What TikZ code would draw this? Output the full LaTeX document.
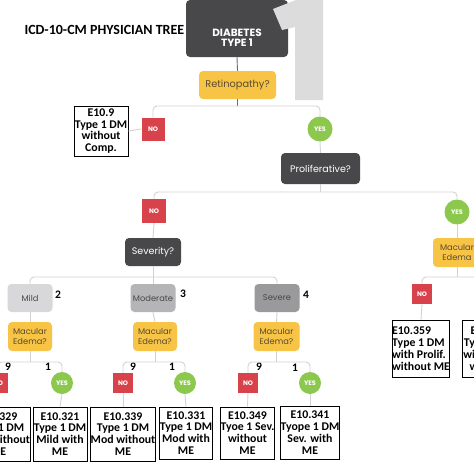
\documentclass[tikz,border=0pt]{standalone}
\usepackage{fontspec}
\setmainfont{Carlito}
\newfontfamily\flowfont{Poppins}
\usetikzlibrary{positioning}

\definecolor{boxdark}{HTML}{48484A}
\definecolor{qyellow}{HTML}{F7C445}
\definecolor{qtext}{HTML}{5A4A30}
\definecolor{nored}{HTML}{D8434B}
\definecolor{yesgreen}{HTML}{8CC84D}
\definecolor{linegray}{HTML}{D2D2D2}
\definecolor{biggray}{HTML}{DCDCDC}
\definecolor{mildgray}{HTML}{D8D8DA}
\definecolor{modgray}{HTML}{B5B5B7}
\definecolor{sevgray}{HTML}{9A9A9C}

\tikzset{
  conn/.style={draw=linegray, line width=0.9pt, rounded corners=4pt},
  stem/.style={draw=boxdark!80, line width=0.9pt},
  darkbox/.style={fill=boxdark, rounded corners=4pt, text=white, inner sep=0pt,
    font=\flowfont\fontsize{9.5}{10}\selectfont},
  qbox/.style={fill=qyellow, rounded corners=4pt, text=qtext, inner sep=0pt,
    align=center, font=\flowfont\fontsize{8.3}{9.2}\selectfont},
  grade/.style={rounded corners=4pt, text=boxdark, inner sep=0pt,
    minimum width=45, minimum height=28, font=\flowfont\fontsize{8.3}{9}\selectfont},
  nobox/.style={fill=nored, text=white, inner sep=0pt, minimum size=20,
    font=\flowfont\bfseries\fontsize{6.5}{6.5}\selectfont},
  yesdot/.style={circle, fill=yesgreen, text=white, inner sep=0pt, minimum size=22,
    font=\flowfont\bfseries\fontsize{6.5}{6.5}\selectfont},
  codebox/.style={draw=black, line width=0.9pt, fill=white, inner sep=0pt, align=center,
    minimum width=54, minimum height=54, font=\bfseries\fontsize{11.8}{11.8}\selectfont},
  numlbl/.style={inner sep=0pt, font=\bfseries\fontsize{11.5}{11.5}\selectfont}
}

\begin{document}
\begin{tikzpicture}[x=1pt, y=-1pt]

  % Canvas
  \useasboundingbox (0,0) rectangle (474,474);
  \clip (0,0) rectangle (474,474);
  \fill[white] (0,0) rectangle (474,474);

  % Title
  \node[font=\bfseries\fontsize{14}{14}\selectfont, anchor=west] (title) at (21,30) {ICD-10-CM PHYSICIAN TREE};

  % Top box and the big one behind it
  \node[darkbox, minimum width=102, minimum height=57] (diab) at (237,28.5) {};
  \fill[biggray] (273,9) -- (296,0) -- (323,0) -- (323,100) -- (295,100) -- (295,27) -- (282,30) -- cycle;
  \node[text=white, align=center, inner sep=0pt,
    font=\flowfont\bfseries\fontsize{10.5}{10}\selectfont] (diabtxt) at (237,38) {DIABETES\\TYPE 1};

  % First question
  \node[qbox, minimum width=77, minimum height=28, font=\flowfont\fontsize{9.8}{10}\selectfont] (ret) at (237.5,85) {Retinopathy?};
  \node[nobox, minimum size=23] (no1) at (153,129) {NO};
  \node[yesdot, minimum size=25] (yes1) at (320,129) {YES};
  \node[codebox, minimum height=50] (r109) at (101,131) {E10.9\\Type 1 DM\\without\\Comp.};

  % Second question
  \node[darkbox, minimum width=79, minimum height=31] (prol) at (320.5,168.5) {Proliferative?};
  \node[nobox, minimum size=24] (no2) at (154,211) {NO};
  \node[yesdot, minimum size=25] (yes2) at (457,212) {YES};
  \node[darkbox, minimum width=56, minimum height=28] (sev) at (153,252) {Severity?};
  \node[qbox, minimum width=48, minimum height=29] (mace) at (457,252.5) {Macular\\Edema};

  % Grades
  \node[grade, fill=mildgray] (mild) at (30,298) {Mild};
  \node[grade, fill=modgray] (mod) at (153,298) {Moderate};
  \node[grade, fill=sevgray] (sevr) at (277,298) {Severe};
  \node[numlbl] (n2) at (58,295) {2};
  \node[numlbl] (n3) at (183,294) {3};
  \node[numlbl] (n4) at (306,295) {4};

  % Macular edema questions
  \node[qbox, minimum width=44, minimum height=29] (me1) at (30,336.5) {Macular\\Edema?};
  \node[qbox, minimum width=44, minimum height=29] (me2) at (155,336.5) {Macular\\Edema?};
  \node[qbox, minimum width=46, minimum height=29] (me3) at (276.5,336.5) {Macular\\Edema?};

  % Answers
  \node[nobox] (no3) at (-2,383) {NO};
  \node[yesdot] (yes3) at (62,383) {YES};
  \node[nobox] (no4) at (123,383) {NO};
  \node[yesdot] (yes4) at (185,383) {YES};
  \node[nobox] (no5) at (248,383) {NO};
  \node[yesdot] (yes5) at (310,383) {YES};
  \node[nobox] (no6) at (422,294) {NO};
  \coordinate (yes6) at (492,294);

  % Counts
  \node[numlbl] (c9a) at (8,367) {9};
  \node[numlbl] (c1a) at (48,367) {1};
  \node[numlbl] (c9b) at (133,367) {9};
  \node[numlbl] (c1b) at (172,367) {1};
  \node[numlbl] (c9c) at (259,367) {9};
  \node[numlbl] (c1c) at (295,368) {1};

  % Codes
  \node[codebox, minimum width=58] (r329) at (-2,434) {E10.329\\Type 1 DM\\Mild without\\ME};
  \node[codebox] (r321) at (60,434) {E10.321\\Type 1 DM\\Mild with\\ME};
  \node[codebox] (r339) at (123,434) {E10.339\\Type 1 DM\\Mod without\\ME};
  \node[codebox, minimum width=52, minimum height=52] (r331) at (186,433) {E10.331\\Type 1 DM\\Mod with\\ME};
  \node[codebox, minimum width=51, minimum height=52] (r349) at (247.5,433) {E10.349\\Tyoe 1 Sev.\\without\\ME};
  \node[codebox, minimum height=53] (r341) at (310,432.5) {E10.341\\Tyope 1 DM\\Sev. with\\ME};
  \node[codebox, minimum width=56, minimum height=57, align=left] (r359) at (421,348.5) {E10.359\\Type 1 DM\\with Prolif.\\without ME};
  \node[codebox, minimum width=56, minimum height=57] (r351) at (490,348.5) {E10.351\\Type 1 DM\\with Prolif.\\with ME};

  % Branch points
  \coordinate (b1) at (237.5,106);
  \coordinate (b2) at (320.5,192);
  \coordinate (b3) at (153,277);
  \coordinate (b4) at (457,277);
  \coordinate (b5) at (30,362);
  \coordinate (b6) at (155,362);
  \coordinate (b7) at (276.5,362);

  % Connectors
  \draw[stem] (diab.south) -- (ret.north);
  \draw[stem] (ret.south) -- (b1);
  \draw[conn] (no1.north) |- (b1) -| (yes1.north);
  \draw[conn] (no1.west) -- (r109.east);
  \draw[conn] (yes1.south) -- (prol.north);
  \draw[conn] (prol.south) -- (b2);
  \draw[conn] (no2.north) |- (b2) -| (yes2.north);
  \draw[conn] (no2.south) -- (sev.north);
  \draw[conn] (yes2.south) -- (mace.north);
  \draw[conn] (sev.south) -- (mod.north);
  \draw[conn] (mild.north) |- (b3) -| (sevr.north);
  \draw[conn] (mace.south) -- (b4);
  \draw[conn] (no6.north) |- (b4) -| (yes6);
  \draw[conn] (no6.south) -- (r359.north);
  \draw[conn] (mild.south) -- (me1.north);
  \draw[conn] (mod.south) -- (me2.north);
  \draw[conn] (sevr.south) -- (me3.north);
  \draw[conn] (me1.south) -- (b5);
  \draw[conn] (me2.south) -- (b6);
  \draw[conn] (me3.south) -- (b7);
  \draw[conn] (no3.north) |- (b5) -| (yes3.north);
  \draw[conn] (no4.north) |- (b6) -| (yes4.north);
  \draw[conn] (no5.north) |- (b7) -| (yes5.north);
  \draw[conn] (no3.south) -- (r329.north);
  \draw[conn] (yes3.south) -- (r321.north);
  \draw[conn] (no4.south) -- (r339.north);
  \draw[conn] (yes4.south) -- (r331.north);
  \draw[conn] (no5.south) -- (r349.north);
  \draw[conn] (yes5.south) -- (r341.north);

\end{tikzpicture}
\end{document}
